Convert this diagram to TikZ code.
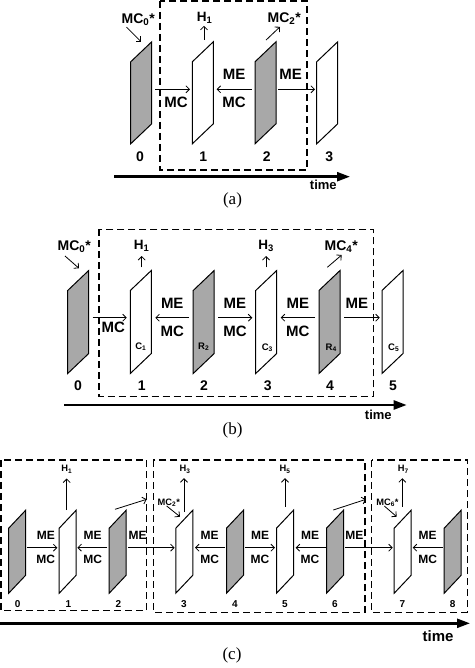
\documentclass[tikz,border=0pt]{standalone}
\usepackage{fontspec}
\setmainfont{Liberation Sans}
\newfontfamily\capfont{Liberation Serif}
\usetikzlibrary{arrows.meta}
\definecolor{fgray}{RGB}{168,168,168}
\newcommand\vidfr[7]{%
  \node[minimum width=#4pt, minimum height=#5pt+#6pt, inner sep=0pt, outer sep=0pt] (#1) at (#2,#3) {};
  \draw[frm, fill=#7] (#1.south west) -- ++(0,-#5) -- (#1.north east) -- ++(0,#5) -- cycle;
}
\tikzset{
  frm/.style={line width=1pt, line join=miter},
  conn/.style={line width=0.8pt, -{Straight Barb[length=3.5pt,width=7pt]}},
  dbox/.style={dash pattern=on 7pt off 4pt, line width=1.2pt},
  timeaxis/.style={line width=2.4pt, -{Triangle[length=13pt,width=9pt]}},
  labA/.style={font=\bfseries\fontsize{15}{15}\selectfont, inner sep=0pt},
  labC/.style={font=\bfseries\fontsize{12}{12}\selectfont, inner sep=0pt},
  numA/.style={font=\bfseries\fontsize{14}{14}\selectfont, inner sep=0pt, anchor=base},
  numC/.style={font=\bfseries\fontsize{10}{10}\selectfont, inner sep=0pt, anchor=base},
  tagA/.style={font=\bfseries\fontsize{14}{14}\selectfont, inner sep=0pt, anchor=base},
  hA/.style={font=\bfseries\fontsize{13.5}{13.5}\selectfont, inner sep=0pt, anchor=base},
  tagC/.style={font=\bfseries\fontsize{9.3}{9.3}\selectfont, inner sep=0pt, anchor=base},
  inlab/.style={font=\bfseries\fontsize{9.5}{9.5}\selectfont, inner sep=0pt, anchor=base},
  timeA/.style={font=\bfseries\fontsize{13}{13}\selectfont, inner sep=0pt, anchor=base},
  timeC/.style={font=\bfseries\fontsize{15}{15}\selectfont, inner sep=0pt, anchor=base},
  captext/.style={font=\capfont\fontsize{17}{17}\selectfont, inner sep=0pt},
}
\begin{document}
\begin{tikzpicture}[x=1pt,y=-1pt]
\useasboundingbox (0,0) rectangle (474,668);
% ================= (a) =================
\draw[dbox] (160,1) rectangle (307,170);
\vidfr{a0}{141.2}{92.8}{21}{82}{20}{fgray}
\vidfr{a1}{202.8}{92.8}{21}{82}{20}{white}
\vidfr{a2}{265.5}{92.8}{21}{82}{20}{fgray}
\vidfr{a3}{327.2}{92.8}{21}{82}{20}{white}
\draw[conn, shorten <=3.3pt, shorten >=2.3pt] ([yshift=3.5pt]a0.east) -- ([yshift=3.5pt]a1.west)
  node[labA, pos=0.6, yshift=-12.6pt] {MC};
\draw[conn, shorten <=3.3pt, shorten >=3.3pt] ([yshift=3.5pt]a2.west) -- ([yshift=3.5pt]a1.east)
  node[labA, midway, yshift=15pt] {ME} node[labA, midway, yshift=-12.8pt] {MC};
\draw[conn, shorten <=2.3pt, shorten >=1.7pt] ([yshift=3.5pt]a2.east) -- ([yshift=3.5pt]a3.west)
  node[labA, pos=0.36, yshift=15pt] {ME};
\node[numA] (na0) at (140,161.7) {0};
\node[numA] (na1) at (203.3,161.7) {1};
\node[numA] (na2) at (266.7,161.7) {2};
\node[numA] (na3) at (329.3,161.7) {3};
\node[tagA] (ma0) at (138.3,23.3) {MC\textsubscript{0}*};
\draw[conn] ([shift={(-14.7,-14.7)}]a0.north) -- (a0.north);
\node[hA] (ha1) at (204.7,21.7) {H\textsubscript{1}};
\draw[conn] ([shift={(1.2,-2)}]a1.north) -- ++(0,-14);
\node[tagA] (ma2) at (284.2,22.7) {MC\textsubscript{2}*};
\draw[conn] ([shift={(0.5,-1.7)}]a2.north) -- ++(14,-13.3);
\coordinate (ta0) at (114,176.7);
\coordinate (ta1) at (350,176.7);
\draw[timeaxis] (ta0) -- (ta1);
\node[timeA] (tma) at (323.3,189.3) {time};
\node[captext] (capa) at (232.5,200) {(a)};
% ================= (b) =================
\draw[dbox] (99,229.3) rectangle (373.3,396.7);
\vidfr{b0}{78.2}{322}{21}{83}{20}{fgray}
\vidfr{b1}{140.8}{322}{21}{83}{20}{white}
\vidfr{b2}{203.7}{322}{21}{83}{20}{fgray}
\vidfr{b3}{266.2}{322}{21}{83}{20}{white}
\vidfr{b4}{329.5}{322}{21}{83}{20}{fgray}
\vidfr{b5}{392.5}{322}{21}{83}{20}{white}
\draw[conn, shorten <=4pt, shorten >=3.6pt] ([yshift=4.3pt]b0.east) -- ([yshift=4.3pt]b1.west)
  node[labA, pos=0.59, yshift=-10pt] {MC};
\draw[conn, shorten <=4pt, shorten >=4pt] ([yshift=4.3pt]b2.west) -- ([yshift=4.3pt]b1.east)
  node[labA, midway, yshift=14.4pt] {ME} node[labA, midway, yshift=-14pt] {MC};
\draw[conn, shorten <=4pt, shorten >=3.4pt] ([yshift=4.3pt]b2.east) -- ([yshift=4.3pt]b3.west)
  node[labA, midway, yshift=14.4pt] {ME} node[labA, midway, yshift=-14pt] {MC};
\draw[conn, shorten <=4pt, shorten >=4pt] ([yshift=4.3pt]b4.west) -- ([yshift=4.3pt]b3.east)
  node[labA, midway, yshift=14.4pt] {ME} node[labA, midway, yshift=-14pt] {MC};
\draw[conn, shorten <=4pt, shorten >=2.3pt] ([yshift=4.3pt]b4.east) -- ([yshift=4.3pt]b5.west)
  node[labA, pos=0.4, yshift=14.4pt] {ME};
\node[numA] (nb0) at (78,390.7) {0};
\node[numA] (nb1) at (141.7,390.7) {1};
\node[numA] (nb2) at (204,390.7) {2};
\node[numA] (nb3) at (267.7,390.7) {3};
\node[numA] (nb4) at (330,390.7) {4};
\node[numA] (nb5) at (393,390.7) {5};
\node[inlab] (ib1) at (140.8,349) {C\textsubscript{1}};
\node[inlab] (ib2) at (203.7,349) {R\textsubscript{2}};
\node[inlab] (ib3) at (267.3,350) {C\textsubscript{3}};
\node[inlab] (ib4) at (331.2,350) {R\textsubscript{4}};
\node[inlab] (ib5) at (393.7,350) {C\textsubscript{5}};
\node[tagA] (mb0) at (74.2,250.7) {MC\textsubscript{0}*};
\draw[conn] ([shift={(-13.2,-14.5)}]b0.north) -- ([shift={(0.8,-2.2)}]b0.north);
\node[hA] (hb1) at (141.7,249.3) {H\textsubscript{1}};
\draw[conn] ([shift={(0.9,-3.2)}]b1.north) -- ++(0,-11.3);
\node[hA] (hb3) at (266,249.3) {H\textsubscript{3}};
\draw[conn] ([shift={(-0.2,-3.2)}]b3.north) -- ++(0,-11.3);
\node[tagA] (mb4) at (341.3,250.7) {MC\textsubscript{4}*};
\draw[conn] ([shift={(-2.2,-3.2)}]b4.north) -- ++(14.4,-12.3);
\coordinate (tb0) at (64,405);
\coordinate (tb1) at (406.7,405);
\draw[timeaxis] (tb0) -- (tb1);
\node[timeA] (tmb) at (378.3,419.3) {time};
\node[captext] (capb) at (232.5,430) {(b)};
% ================= (c) =================
\draw[dbox] (1,460) rectangle (146.7,610.7);
\draw[dbox] (153.3,460) rectangle (365,612.3);
\draw[dbox] (371.7,460) rectangle (467.3,612.3);
\vidfr{c0}{17.2}{551.7}{17}{65}{18}{fgray}
\vidfr{c1}{67.7}{551.7}{17}{65}{18}{white}
\vidfr{c2}{117.7}{551.7}{17}{65}{18}{fgray}
\vidfr{c3}{184.3}{551.7}{17}{65}{18}{white}
\vidfr{c4}{235}{551.7}{17}{65}{18}{fgray}
\vidfr{c5}{285}{551.7}{17}{65}{18}{white}
\vidfr{c6}{335}{551.7}{17}{65}{18}{fgray}
\vidfr{c7}{402.7}{551.7}{17}{65}{18}{white}
\vidfr{c8}{452.7}{551.7}{17}{65}{18}{fgray}
\draw[conn, shorten <=1.2pt, shorten >=1.8pt] ([yshift=4pt]c0.east) -- ([yshift=4pt]c1.west)
  node[labC, pos=0.6, yshift=11.9pt] {ME} node[labC, pos=0.6, yshift=-11.5pt] {MC};
\draw[conn, shorten <=1.8pt, shorten >=1.2pt] ([yshift=4pt]c2.west) -- ([yshift=4pt]c1.east)
  node[labC, midway, yshift=11.9pt] {ME} node[labC, midway, yshift=-11.5pt] {MC};
\draw[conn, shorten <=2pt, shorten >=1.2pt] ([yshift=4pt]c2.east) -- ([yshift=4pt]c3.west)
  node[labC, pos=0, anchor=west, xshift=2pt, yshift=11.9pt] {ME};
\draw[conn, shorten <=1.5pt, shorten >=2.2pt] ([yshift=4pt]c4.west) -- ([yshift=4pt]c3.east)
  node[labC, midway, yshift=11.9pt] {ME} node[labC, midway, yshift=-11.5pt] {MC};
\draw[conn, shorten <=1.5pt, shorten >=1.5pt] ([yshift=4pt]c4.east) -- ([yshift=4pt]c5.west)
  node[labC, midway, yshift=11.9pt] {ME} node[labC, midway, yshift=-11.5pt] {MC};
\draw[conn, shorten <=1pt, shorten >=2.2pt] ([yshift=4pt]c6.west) -- ([yshift=4pt]c5.east)
  node[labC, midway, yshift=11.9pt] {ME} node[labC, midway, yshift=-11.5pt] {MC};
\draw[conn, shorten <=1.5pt, shorten >=1.5pt] ([yshift=4pt]c6.east) -- ([yshift=4pt]c7.west)
  node[labC, pos=0, anchor=west, xshift=1.5pt, yshift=11.9pt] {ME};
\draw[conn, shorten <=1pt, shorten >=1.5pt] ([yshift=4pt]c8.west) -- ([yshift=4pt]c7.east)
  node[labC, midway, yshift=11.9pt] {ME} node[labC, midway, yshift=-11.5pt] {MC};
\node[numC] (nc0) at (17.7,607.3) {0};
\node[numC] (nc1) at (68.3,607.3) {1};
\node[numC] (nc2) at (118.3,607.3) {2};
\node[numC] (nc3) at (184,607.3) {3};
\node[numC] (nc4) at (235,607.3) {4};
\node[numC] (nc5) at (285,607.3) {5};
\node[numC] (nc6) at (335,607.3) {6};
\node[numC] (nc7) at (402.3,607.3) {7};
\node[numC] (nc8) at (452.7,607.3) {8};
\node[tagC] (hc1) at (66.8,471.7) {H\textsubscript{1}};
\draw[conn] ([shift={(-1,0)}]c1.north) -- ++(0,-31.7);
\node[tagC] (hc3) at (185,471.7) {H\textsubscript{3}};
\draw[conn] ([shift={(-0.3,2)}]c3.north) -- ++(0,-34);
\node[tagC] (hc5) at (285,471.7) {H\textsubscript{5}};
\draw[conn] ([shift={(0,-3.5)}]c5.north) -- ++(0,-28.5);
\node[tagC] (hc7) at (403.3,471.7) {H\textsubscript{7}};
\draw[conn] ([shift={(-0.4,-3.5)}]c7.north) -- ++(0,-28.5);
\coordinate (e1) at (146.7,499.3);
\coordinate (e2) at (366,499.3);
\draw[conn] ([shift={(-2.7,-0.9)}]c2.north) -- (e1);
\draw[conn] ([shift={(-1.7,-0.2)}]c6.north) -- (e2);
\node[tagC] (mc2) at (168.8,505) {MC\textsubscript{2}*};
\draw[conn] ([shift={(-17.6,-4.2)}]c3.north) -- ++(13.3,10.7);
\node[tagC] (mc6) at (387.5,505) {MC\textsubscript{6}*};
\draw[conn] ([shift={(-18.4,-4.2)}]c7.north) -- ++(12.4,10.7);
\coordinate (tc0) at (0,623.3);
\coordinate (tc1) at (470,623.3);
\draw[timeaxis] (tc0) -- (tc1);
\node[timeC] (tmc) at (438,641.7) {time};
\node[captext] (capc) at (232,655) {(c)};
\end{tikzpicture}
\end{document}
